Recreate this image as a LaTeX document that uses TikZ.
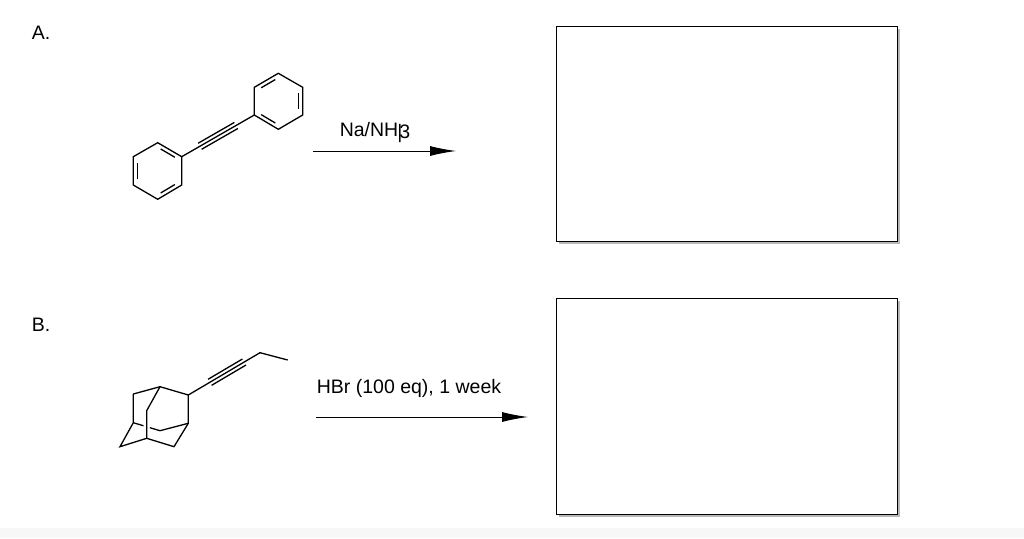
\documentclass[tikz,border=0pt]{standalone}
\usepackage{fontspec}
\setmainfont{Liberation Sans}
\usetikzlibrary{arrows.meta,calc}
\begin{document}
\begin{tikzpicture}[x=1pt,y=-1pt,bond/.style={line width=1.3pt},
  rx/.style={line width=1pt,-{Latex[length=26pt,width=10pt]}},
  lbl/.style={font=\fontsize{19.5}{22}\selectfont,inner sep=0pt},
  box/.style={draw=black,line width=1pt,fill=white}]
\useasboundingbox (0,0) rectangle (1024,538);
\fill[gray!6] (0,528) rectangle (1024,538);
\node[lbl] (la) at (41,33) {A.};
\node[lbl] (lb) at (41,325) {B.};
% boxes
\fill[gray!55] (559,29) rectangle (900,244);
\node[box,minimum width=341pt,minimum height=215pt,anchor=north west] (bx1) at (556,26) {};
\fill[gray!55] (559,301) rectangle (900,517);
\node[box,minimum width=341pt,minimum height=216pt,anchor=north west] (bx2) at (556,298) {};
% arrows
\coordinate (a1) at (313,151); \coordinate (a2) at (456,151);
\draw[rx] (a1) -- (a2);
\node[lbl] (ta) at (375,132) {Na/NH\raisebox{-2pt}{\kern-1pt|\kern-3pt 3}};
\coordinate (b1) at (316,417); \coordinate (b2) at (528,417);
\draw[rx] (b1) -- (b2);
\node[lbl] (tb) at (409,388) {HBr (100 eq), 1 week};
% molecule A
\foreach \n/\p in {r1/{278.3,73.3},r2/{302.7,87.3},r3/{302.7,115},r4/{278.3,129.3},r5/{254.3,115},r6/{254.3,87.3},
  l1/{157.7,142.7},l2/{181.7,156.7},l3/{181.7,185},l4/{157.7,199.3},l5/{133.3,185},l6/{133.3,156.7}}
  \coordinate (\n) at (\p);
\draw[bond] (r1)--(r2)--(r3)--(r4)--(r5)--(r6)--cycle;
\draw[bond] (l1)--(l2)--(l3)--(l4)--(l5)--(l6)--cycle;
\coordinate (rc) at (278.5,101.3); \coordinate (lc) at (157.5,171);
\foreach \a/\b in {r6/r1,r2/r3,r4/r5}
  \draw[bond] ($(\a)!0.15!(\b)!0.16!(rc)$) -- ($(\b)!0.15!(\a)!0.16!(rc)$);
\foreach \a/\b in {l5/l6,l1/l2,l3/l4}
  \draw[bond] ($(\a)!0.15!(\b)!0.16!(lc)$) -- ($(\b)!0.15!(\a)!0.16!(lc)$);
\draw[bond] (l2)--(r5);
\draw[bond] ($(l2)!0.25!(r5)!3.5pt!90:(r5)$) -- ($(l2)!0.75!(r5)!3.5pt!90:(r5)$);
\draw[bond] ($(l2)!0.25!(r5)!3.5pt!-90:(r5)$) -- ($(l2)!0.75!(r5)!3.5pt!-90:(r5)$);
% molecule B
\foreach \n/\p in {a/{160,386.7},b/{188.3,395},c/{133.3,394},d/{133.3,422.7},e/{146.7,410.7},
  f/{146.7,438.3},g/{160,430.7},h/{188.3,423.3},i/{120,446.7},j/{174,446.7},p/{260,352.7},q/{287.7,360}}
  \coordinate (\n) at (\p);
\draw[bond] (c)--(a)--(b)--(h)--(j)--(f)--(i)--(d)--(c);
\draw[bond] (a)--(e)--(f);
\draw[bond] (h)--(g);
\draw[bond] (d)--($(d)!0.38!(g)$);
\draw[bond] ($(d)!0.62!(g)$)--(g);
\draw[bond] (b)--(p)--(q);
\draw[bond] ($(b)!0.3!(p)!3.5pt!90:(p)$) -- ($(b)!0.78!(p)!3.5pt!90:(p)$);
\draw[bond] ($(b)!0.3!(p)!3.5pt!-90:(p)$) -- ($(b)!0.78!(p)!3.5pt!-90:(p)$);
\end{tikzpicture}
\end{document}
